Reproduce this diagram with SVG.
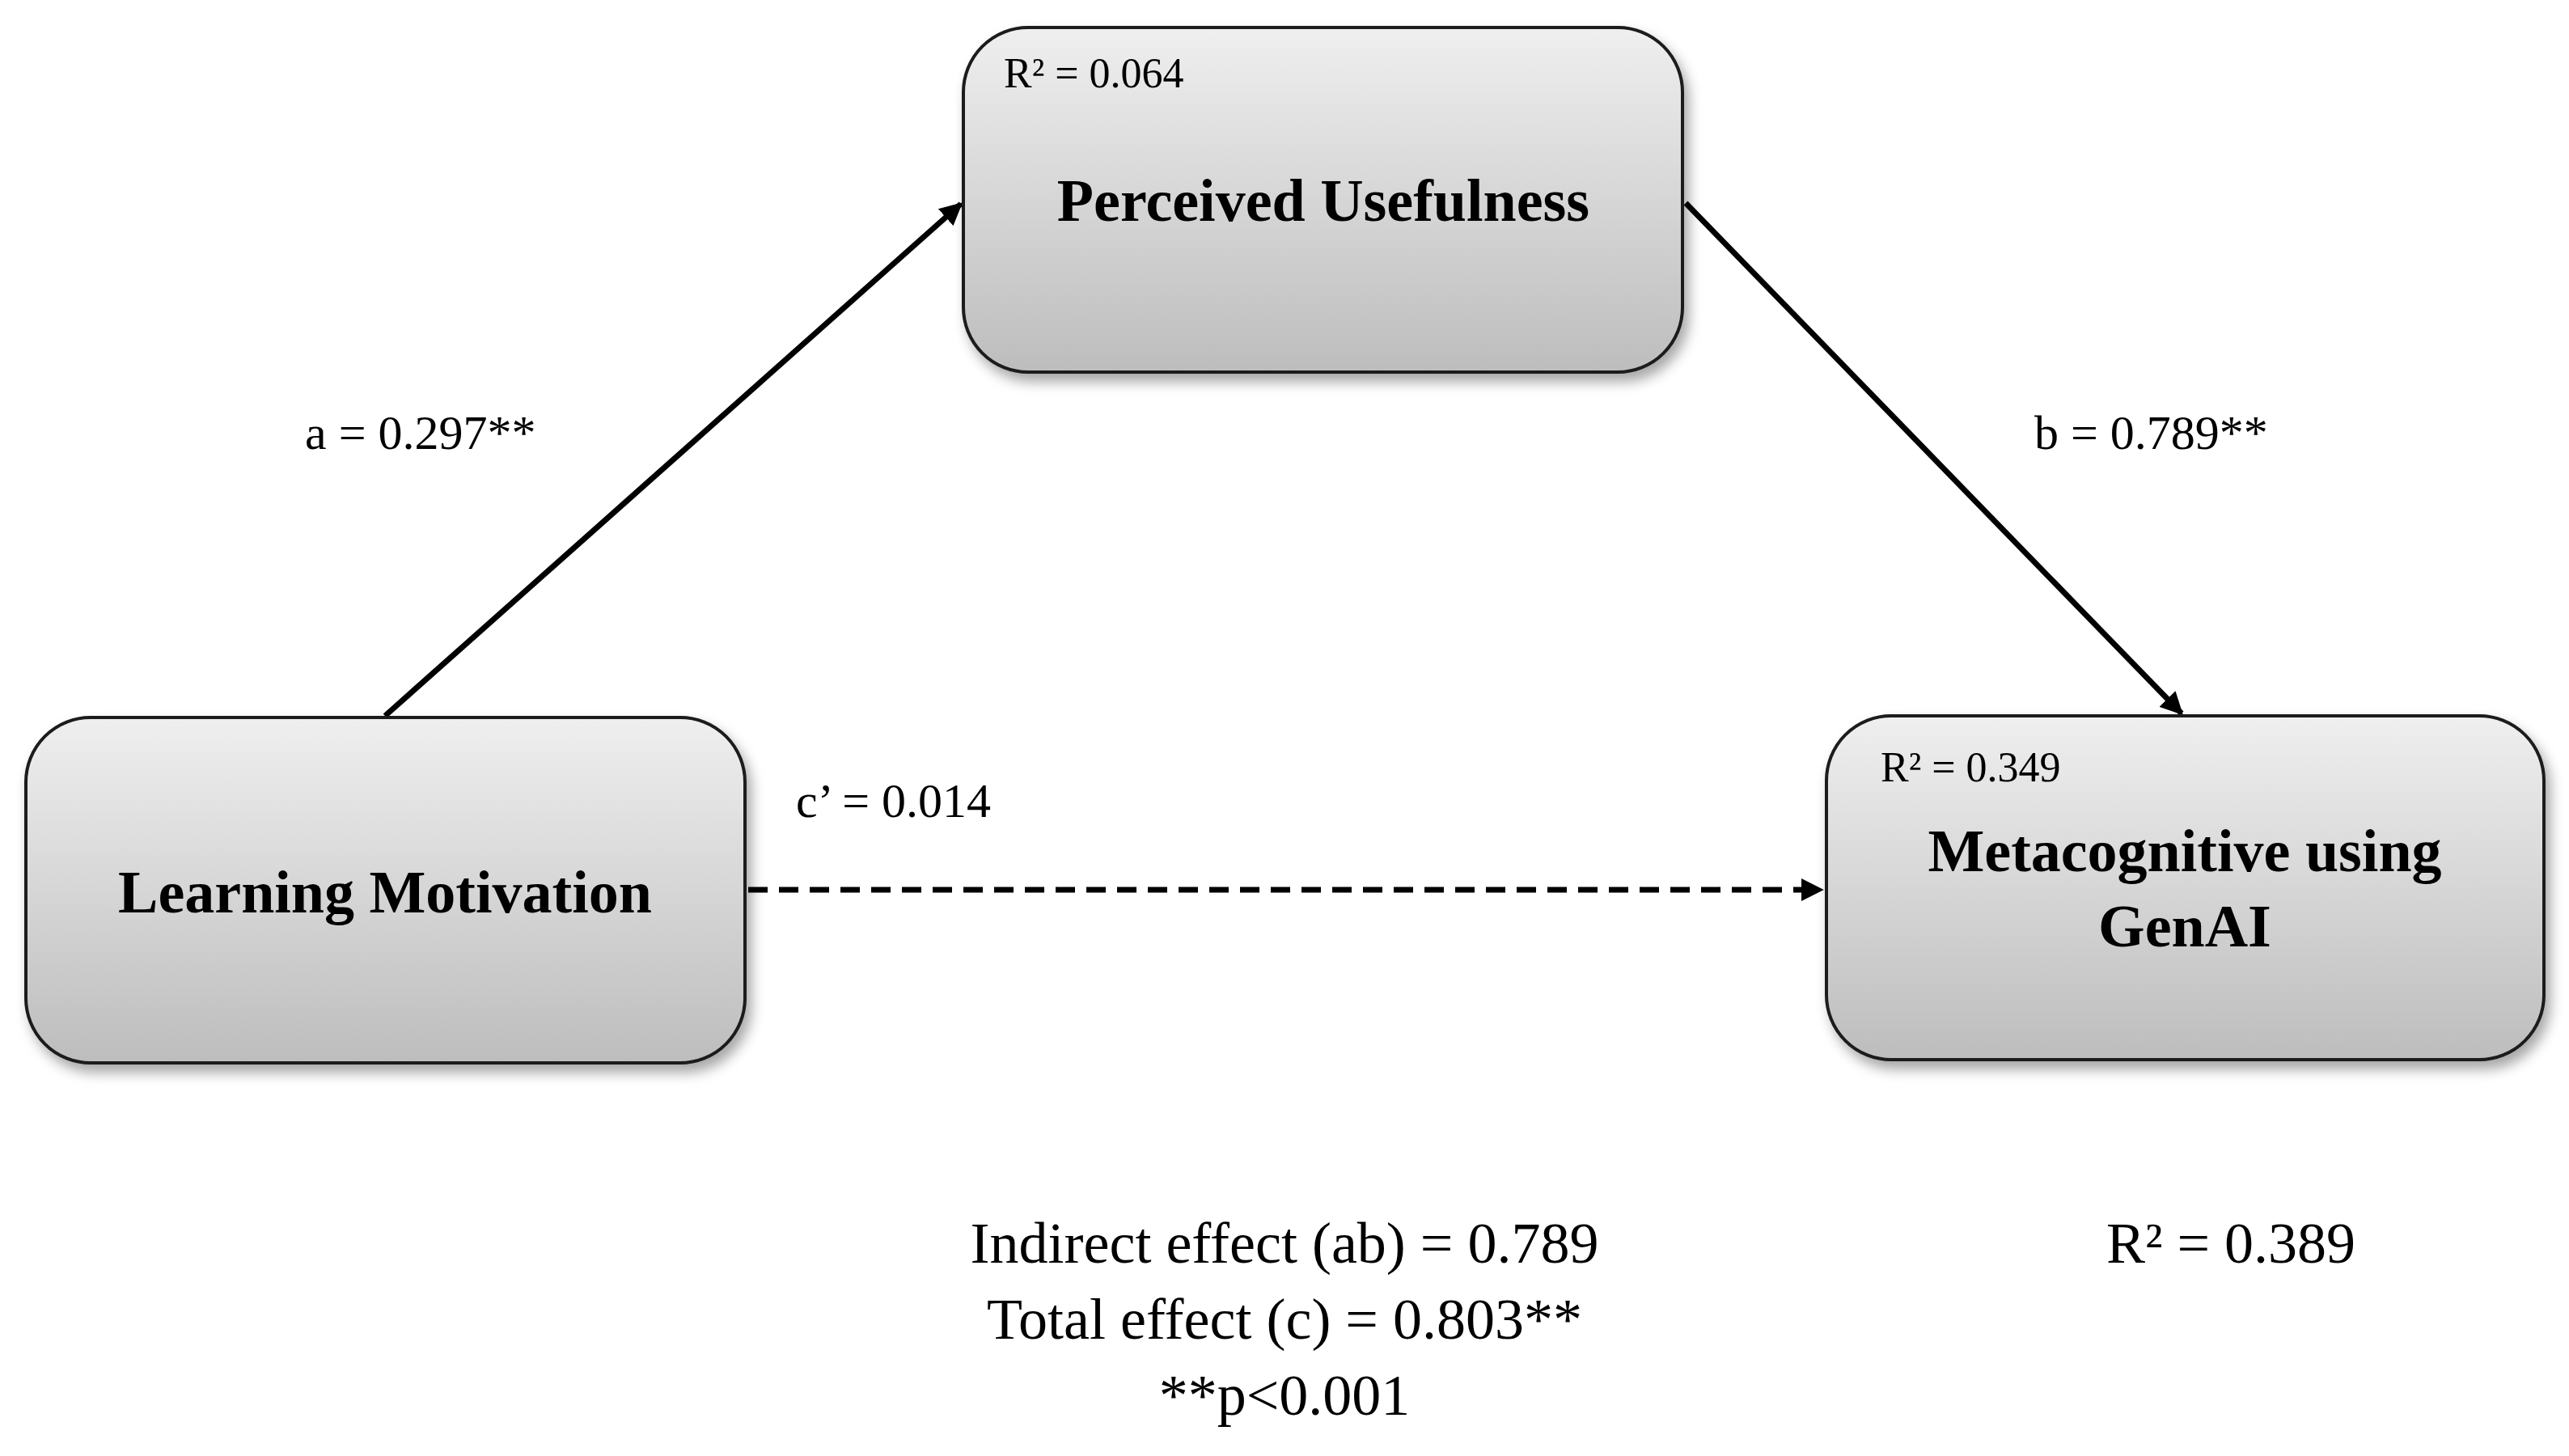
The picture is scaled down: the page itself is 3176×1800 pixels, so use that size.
<svg xmlns="http://www.w3.org/2000/svg" width="3176" height="1800" viewBox="0 0 3176 1800">
<style>
.box{stroke:#1a1a1a;stroke-width:4;fill:url(#g);filter:url(#sh)}
.t{font-family:"Liberation Serif",serif;fill:#000}
.b{font-weight:bold;font-size:74px;text-anchor:middle}
.r{font-size:52px}
.l{font-size:60px}
.e{font-size:72px;text-anchor:middle}
.c{stroke:#000;stroke-width:7;fill:none}
</style>
<defs>
<linearGradient id="g" x1="0" y1="0" x2="0" y2="1"><stop offset="0" stop-color="#efefef"/><stop offset="1" stop-color="#bdbdbd"/></linearGradient>
<filter id="sh" x="-10%" y="-10%" width="130%" height="130%"><feDropShadow dx="6" dy="10" stdDeviation="8" flood-color="#000" flood-opacity="0.35"/></filter>
<marker id="ar" viewBox="0 0 10 10" refX="9" refY="5" markerWidth="4" markerHeight="4" orient="auto"><path d="M0,0L10,5L0,10z" fill="#000"/></marker>
</defs>
<rect width="3176" height="1800" fill="#fff"/>
<g id="connectors">
<line class="c" x1="476" y1="885" x2="1188" y2="252" marker-end="url(#ar)"/>
<line class="c" x1="2084" y1="251" x2="2697" y2="882" marker-end="url(#ar)"/>
<line class="c" x1="925" y1="1100" x2="2252" y2="1100" stroke-dasharray="24,14" marker-end="url(#ar)"/>
</g>
<g id="pu"><rect class="box" x="1191" y="34" width="889" height="426" rx="80"/>
<text class="t r" x="1241" y="108">R² = 0.064</text>
<text class="t b" x="1636" y="273">Perceived Usefulness</text></g>
<g id="lm"><rect class="box" x="32" y="887" width="889" height="427" rx="80"/>
<text class="t b" x="476" y="1128">Learning Motivation</text></g>
<g id="mg"><rect class="box" x="2258" y="885" width="887" height="425" rx="80"/>
<text class="t r" x="2325" y="966">R² = 0.349</text>
<text class="t b" x="2701" y="1077">Metacognitive using</text>
<text class="t b" x="2701" y="1170">GenAI</text></g>
<g id="labels">
<text class="t l" x="377" y="555">a = 0.297**</text>
<text class="t l" x="2515" y="555">b = 0.789**</text>
<text class="t l" x="984" y="1010">c’ = 0.014</text>
<text class="t e" x="1588" y="1561">Indirect effect (ab) = 0.789</text>
<text class="t e" x="1588" y="1655">Total effect (c) = 0.803**</text>
<text class="t e" x="1588" y="1749">**p&lt;0.001</text>
<text class="t e" x="2758" y="1561">R² = 0.389</text>
</g>
</svg>
